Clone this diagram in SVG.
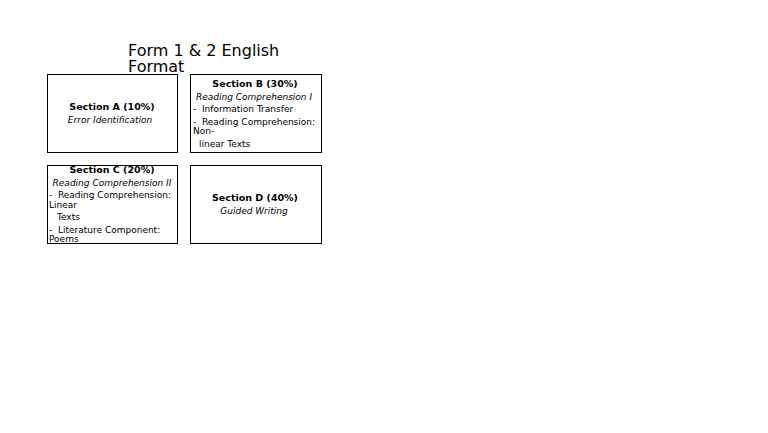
<svg xmlns="http://www.w3.org/2000/svg" width="768" height="433" viewBox="0 0 768 433">
<style>
.box{fill:#fff;stroke:#000;stroke-width:1}
text{font-family:"DejaVu Sans",sans-serif;fill:#000;white-space:pre}
.t{font-size:16px}
.h{font-size:9.5px;font-weight:bold;text-anchor:middle}
.i{font-size:9px;font-style:italic;text-anchor:middle}
.b{font-size:9px}
</style>
<rect width="768" height="433" fill="#fff"/>
<g id="title">
<text class="t" x="128" y="56">Form 1 &amp; 2 English</text>
<text class="t" x="128" y="72">Format</text>
</g>
<g id="sectionA">
<rect class="box" x="47.5" y="74.5" width="130" height="78"/>
<text class="h" x="112" y="110">Section A (10%)</text>
<text class="i" x="110" y="123">Error Identification</text>
</g>
<g id="sectionB">
<rect class="box" x="190.5" y="74.5" width="131" height="78"/>
<text class="h" x="255" y="87">Section B (30%)</text>
<text class="i" x="254" y="100">Reading Comprehension I</text>
<text class="b" x="193" y="112" xml:space="preserve">-  Information Transfer</text>
<text class="b" x="193" y="125" xml:space="preserve">-  Reading Comprehension:</text>
<text class="b" x="193" y="134">Non-</text>
<text class="b" x="199" y="147">linear Texts</text>
</g>
<g id="sectionC">
<rect class="box" x="47.5" y="165.5" width="130" height="78"/>
<text class="h" x="112" y="173">Section C (20%)</text>
<text class="i" x="112" y="186">Reading Comprehension II</text>
<text class="b" x="49" y="198" xml:space="preserve">-  Reading Comprehension:</text>
<text class="b" x="49" y="208">Linear</text>
<text class="b" x="57" y="220">Texts</text>
<text class="b" x="49" y="233" xml:space="preserve">-  Literature Component:</text>
<text class="b" x="49" y="242">Poems</text>
</g>
<g id="sectionD">
<rect class="box" x="190.5" y="165.5" width="131" height="78"/>
<text class="h" x="255" y="201">Section D (40%)</text>
<text class="i" x="254" y="214">Guided Writing</text>
</g>
<g id="connectors"/>
</svg>
